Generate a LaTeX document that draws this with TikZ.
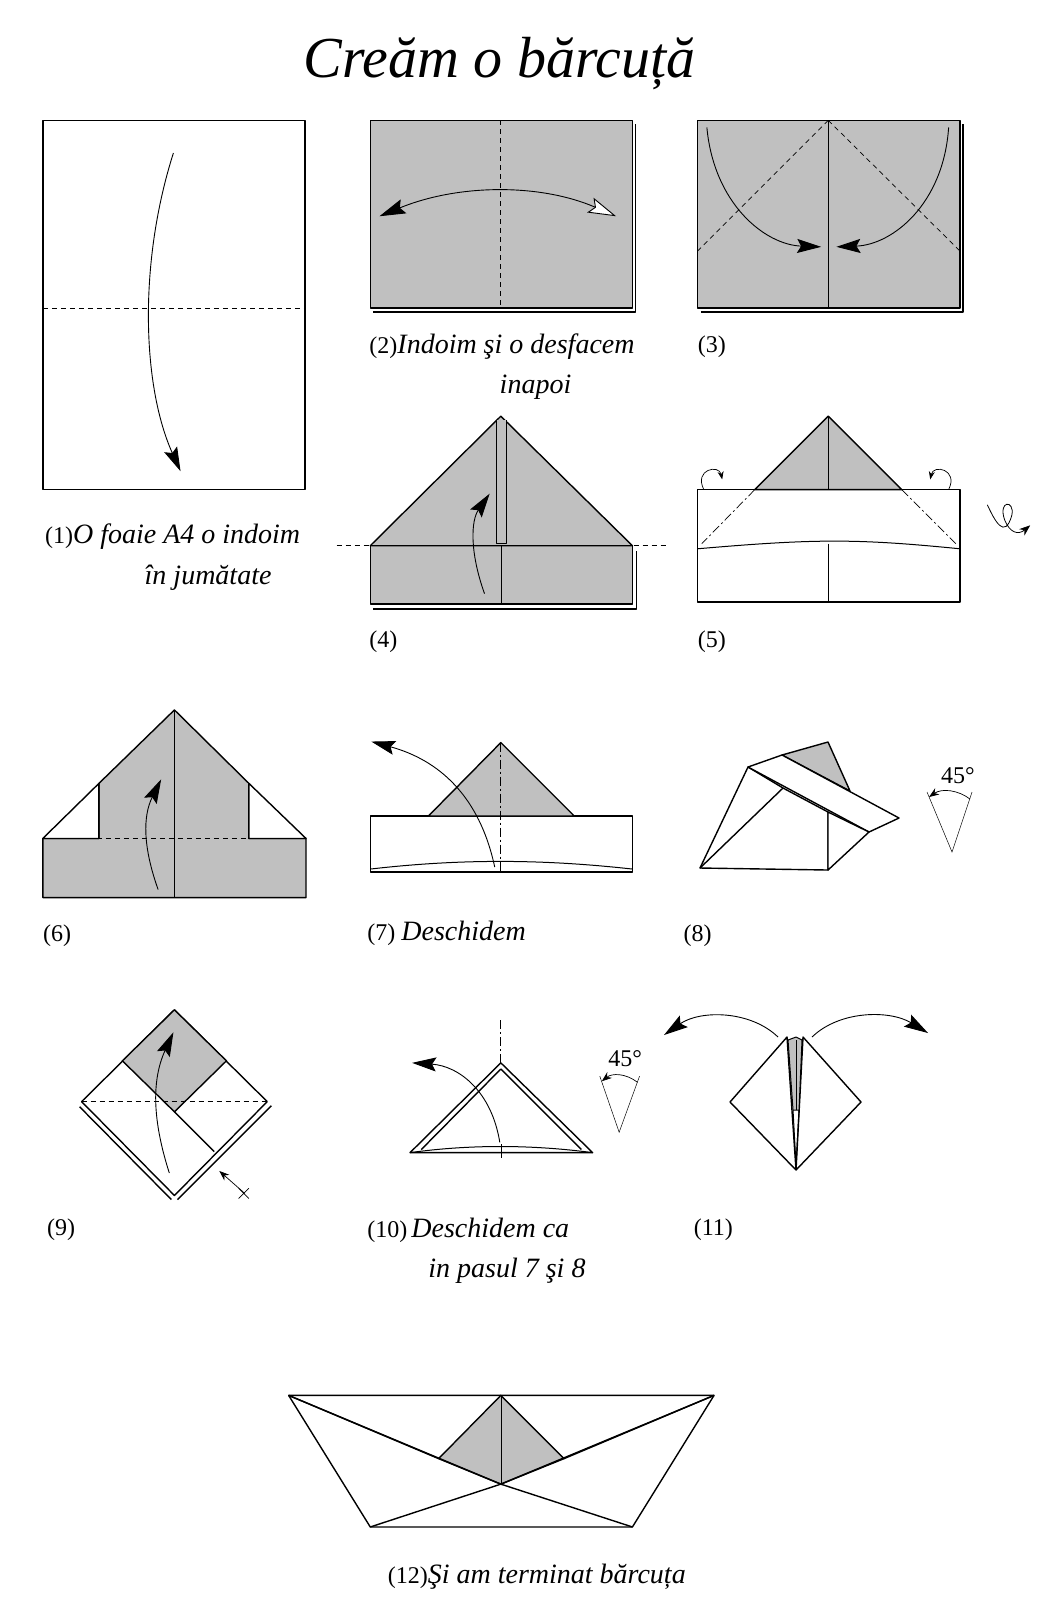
\documentclass[tikz,border=0pt]{standalone}
\usepackage{fontspec}
\setmainfont{Liberation Serif}
\usetikzlibrary{arrows.meta}
\definecolor{pg}{RGB}{192,192,192}
\tikzset{
 paper/.style={draw=black,line width=1.4pt,line join=round},
 gp/.style={paper,fill=pg},
 thin/.style={draw=black,line width=0.5pt},
 dsh/.style={draw=black,line width=0.7pt,dash pattern=on 5pt off 4pt},
 dd/.style={draw=black,line width=0.7pt,dash pattern=on 9pt off 3pt on 2pt off 3pt},
 mv/.style={line width=0.9pt,-{Stealth[length=24pt,width=14pt,inset=4pt]}},
 lab/.style={font=\fontsize{24}{28}\selectfont,anchor=west,inner sep=0pt},
 ilab/.style={font=\fontsize{28}{32}\selectfont\itshape,inner sep=0pt},
 truec/.style={x=1pt,y=-1pt},
}
\begin{document}
\begin{tikzpicture}[x=1.02pt,y=-1.02pt]
\useasboundingbox (0,0) rectangle (1015.7,1568.6);
\node[font=\fontsize{58}{64}\selectfont\itshape] (title) at (490,62) {Creăm o bărcuță};
% step 1
\draw[paper,fill=white] (42,118) rectangle (299,480);
\draw[dsh] (42,302) -- (299,302);
\coordinate (a1) at (170,150); \coordinate (b1) at (177,462);
\draw[mv] (a1) .. controls (135,260) and (140,380) .. (b1);
\node[lab] (l1) at (44,526) {(1)\textit{\fontsize{28}{32}\selectfont O foaie A4 o indoim}};
\node[ilab] (t1) at (204,566) {în jumătate};
% step 2
\draw[paper] (366,306) -- (623,306) -- (623,122);
\draw[gp] (363,118) rectangle (620,302);
\draw[dsh] (491,118) -- (491,302);
\coordinate (a2) at (372,212); \coordinate (b2) at (604,212);
\draw[line width=0.9pt,{Stealth[length=26pt,width=15pt,inset=4pt]}-{Stealth[length=28pt,width=16pt,inset=5pt,open,fill=white]}] (a2) .. controls (450,180) and (530,180) .. (b2);
\node[lab] (l2) at (362,340) {(2)\textit{\fontsize{28}{32}\selectfont Indoim şi o desfacem}};
\node[ilab] (t2) at (525,380) {inapoi};
% step 3
\draw[paper] (687,306) -- (944,306) -- (944,122);
\draw[gp] (684,118) rectangle (941,302);
\draw[thin] (812,118) -- (812,302);
\draw[dsh] (812,118) -- (684,246);
\draw[dsh] (812,118) -- (941,246);
\coordinate (a3) at (693,125); \coordinate (b3) at (805,242);
\draw[mv] (a3) .. controls (700,200) and (750,240) .. (b3);
\coordinate (a3b) at (930,125); \coordinate (b3b) at (820,242);
\draw[mv] (a3b) .. controls (925,200) and (875,240) .. (b3b);
\node[lab] (l3) at (684,340) {(3)};
% step 4
\draw[paper] (366,597) -- (624,597) -- (624,540);
\draw[gp] (363,535) rectangle (620,592);
\draw[gp] (491,408) -- (620,535) -- (363,535) -- cycle;
\draw[thin] (491,535) -- (491,592);
\draw[paper,fill=pg,line width=1pt] (487,412) -- (487,533) -- (497,533) -- (497,412);
\draw[dsh] (330,535) -- (655,535);
\coordinate (a4) at (475,582); \coordinate (b4) at (480,484);
\draw[mv] (a4) .. controls (460,540) and (462,510) .. (b4);
\node[lab] (l4) at (362,629) {(4)};
% step 5
\draw[paper,fill=white] (684,480) rectangle (941,590);
\draw[gp] (812,408) -- (884,480) -- (740,480) -- cycle;
\draw[thin] (812,408) -- (812,480);
\draw[dd] (740,480) -- (688,533);
\draw[dd] (884,480) -- (937,533);
\draw[paper,line width=1pt] (684,538) .. controls (800,528) and (840,528) .. (941,538);
\draw[thin] (812,533) -- (812,590);
\draw[line width=0.7pt,-{Stealth[length=8pt]}] (690,480) .. controls (680,460) and (705,455) .. (708,470);
\draw[line width=0.7pt,-{Stealth[length=8pt]}] (930,480) .. controls (940,460) and (915,455) .. (912,470);
\draw[line width=0.8pt,-{Stealth[length=11pt]}] (968,495) .. controls (975,510) and (985,530) .. (992,505) .. controls (995,490) and (978,490) .. (985,510) .. controls (990,522) and (998,525) .. (1010,515);
\node[lab] (l5) at (684,629) {(5)};
% step 6
\draw[gp] (42,822) -- (97,822) -- (97,768) -- (171,696) -- (244,768) -- (244,822) -- (300,822) -- (300,880) -- (42,880) -- cycle;
\draw[paper,fill=white] (42,822) -- (97,768) -- (97,822) -- cycle;
\draw[paper,fill=white] (300,822) -- (244,768) -- (244,822) -- cycle;
\draw[thin] (171,696) -- (171,880);
\draw[dsh] (42,822) -- (300,822);
\coordinate (a6) at (155,872); \coordinate (b6) at (158,764);
\draw[mv] (a6) .. controls (140,830) and (140,800) .. (b6);
\node[lab] (l6) at (42,917) {(6)};
% step 7
\draw[paper,fill=white] (363,800) rectangle (620,855);
\draw[gp] (491,728) -- (563,800) -- (420,800) -- cycle;
\draw[paper,line width=1pt] (363,852) .. controls (450,842) and (530,842) .. (620,852);
\draw[dd] (491,728) -- (491,855);
\coordinate (a7) at (485,850); \coordinate (b7) at (364,727);
\draw[mv] (a7) .. controls (470,780) and (430,745) .. (b7);
\node[lab] (l7) at (360,915) {(7) \textit{\fontsize{28}{32}\selectfont Deschidem}};
% step 8 (true pixel coordinates)
\begin{scope}[truec]
\draw[paper,fill=white] (748,767) -- (783,788) -- (828,812) -- (828,870) -- (700,868) -- cycle;
\draw[paper] (783,788) -- (700,868);
\draw[gp] (782,755) -- (828,742) -- (850,791) -- cycle;
\draw[paper,fill=white] (748,767) -- (782,755) -- (899,818) -- (869,832) -- cycle;
\draw[paper,fill=white] (828,812) -- (869,832) -- (828,870) -- cycle;
\draw[thin] (927,792) -- (952,852) -- (972,792);
\draw[line width=0.7pt,-{Stealth[length=10pt]}] (970,799) .. controls (958,790) and (942,788) .. (929,797);
\node[font=\fontsize{24}{28}\selectfont] (d8) at (958,776) {45°};
\end{scope}
\node[lab] (l8) at (670,917) {(8)};
% step 9
\draw[paper] (174,1176) -- (266,1084);
\draw[paper] (168,1176) -- (78,1085);
\draw[paper,fill=white] (171,990) -- (262,1080) -- (171,1172) -- (80,1080) -- cycle;
\draw[gp] (171,990) -- (222,1040) -- (171,1090) -- (120,1040) -- cycle;
\draw[paper] (171,1090) -- (210,1129);
\draw[dsh] (80,1080) -- (262,1080);
\coordinate (a9) at (166,1150); \coordinate (b9) at (170,1012);
\draw[mv] (a9) .. controls (150,1100) and (148,1060) .. (b9);
\coordinate (c9) at (240,1170); \coordinate (d9) at (215,1148);
\draw[line width=0.7pt,-{Stealth[length=10pt]}] (c9) -- (d9);
\draw[line width=0.7pt] (234,1165) -- (244,1175) (234,1175) -- (244,1165);
\node[lab] (l9) at (46,1206) {(9)};
% step 10
\draw[paper,fill=white] (491,1042) -- (581,1130) -- (402,1130) -- cycle;
\draw[paper] (491,1048) -- (570,1127) (491,1048) -- (413,1127);
\draw[paper,line width=1pt] (402,1130) .. controls (460,1122) and (520,1122) .. (581,1130);
\draw[thin] (491,1122) -- (491,1135);
\draw[dd] (491,1000) -- (491,1042);
\coordinate (a10) at (490,1120); \coordinate (b10) at (404,1042);
\draw[mv] (a10) .. controls (482,1070) and (450,1045) .. (b10);
\draw[thin] (588,1055) -- (607,1110) -- (627,1055);
\draw[line width=0.7pt,-{Stealth[length=10pt]}] (625,1061) .. controls (613,1052) and (600,1052) .. (590,1060);
\node[font=\fontsize{24}{28}\selectfont] (d10) at (613,1038) {45°};
\node[lab] (l10) at (360,1206) {(10)\,\textit{\fontsize{28}{32}\selectfont Deschidem ca}};
\node[ilab] (t10) at (497,1246) {in pasul 7 şi 8};
% step 11 (true pixel coordinates)
\begin{scope}[truec]
\draw[paper,fill=white] (787,1037) -- (730,1102) -- (796,1170) -- (861,1102) -- (803,1037) -- (796,1170) -- cycle;
\draw[paper,fill=pg,line width=1pt] (788,1040) -- (793,1110) -- (799,1110) -- (802,1040) -- (796,1037) -- cycle;
\draw[paper,line width=1pt] (793,1110) -- (796,1165) -- (799,1110);
\draw[thin] (796,1040) -- (796,1110);
\coordinate (a11) at (778,1037); \coordinate (b11) at (664,1035);
\draw[mv] (a11) .. controls (750,1010) and (700,1010) .. (b11);
\coordinate (a11b) at (812,1037); \coordinate (b11b) at (928,1033);
\draw[mv] (a11b) .. controls (840,1010) and (890,1010) .. (b11b);
\end{scope}
\node[lab] (l11) at (680,1206) {(11)};
% step 12
\draw[paper,fill=white] (283,1368) -- (700,1368) -- (620,1497) -- (363,1497) -- cycle;
\draw[gp] (491,1368) -- (553,1430) -- (491,1455) -- (430,1430) -- cycle;
\draw[thin] (491,1368) -- (491,1455);
\draw[paper] (283,1368) -- (491,1455) -- (700,1368);
\draw[paper] (363,1497) -- (491,1455) -- (620,1497);
\draw[paper] (283,1368) -- (430,1430) (700,1368) -- (553,1430);
\node[lab] (l12) at (380,1546) {(12)\textit{\fontsize{28}{32}\selectfont Şi am terminat bărcuța}};
\end{tikzpicture}
\end{document}
